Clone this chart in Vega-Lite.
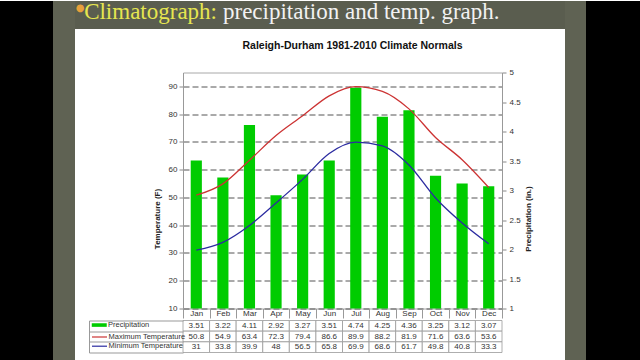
{
  "$schema": "https://vega.github.io/schema/vega-lite/v6.json",
  "background": "white",
  "padding": 0,
  "spacing": 0,
  "config": {
    "view": {"stroke": null},
    "font": "Liberation Sans",
    "axis": {"labelFont": "Liberation Sans", "titleFont": "Liberation Sans", "labelColor": "#333333", "titleColor": "#222222", "domainColor": "#999999", "tickColor": "#888888"}
  },
  "datasets": {
    "climate": [
      {"month": "Jan", "precip": 3.51, "tmax": 50.8, "tmin": 31},
      {"month": "Feb", "precip": 3.22, "tmax": 54.9, "tmin": 33.8},
      {"month": "Mar", "precip": 4.11, "tmax": 63.4, "tmin": 39.9},
      {"month": "Apr", "precip": 2.92, "tmax": 72.3, "tmin": 48},
      {"month": "May", "precip": 3.27, "tmax": 79.4, "tmin": 56.5},
      {"month": "Jun", "precip": 3.51, "tmax": 86.6, "tmin": 65.8},
      {"month": "Jul", "precip": 4.74, "tmax": 89.9, "tmin": 69.9},
      {"month": "Aug", "precip": 4.25, "tmax": 88.2, "tmin": 68.6},
      {"month": "Sep", "precip": 4.36, "tmax": 81.9, "tmin": 61.7},
      {"month": "Oct", "precip": 3.25, "tmax": 71.6, "tmin": 49.8},
      {"month": "Nov", "precip": 3.12, "tmax": 63.6, "tmin": 40.8},
      {"month": "Dec", "precip": 3.07, "tmax": 53.6, "tmin": 33.3}
    ],
    "blank": [{"k": 1}]
  },
  "hconcat": [
    {"width": 53, "height": 360, "data": {"name": "blank"}, "view": {"fill": "#000000", "stroke": null}, "mark": {"type": "point", "opacity": 0}, "encoding": {}},
    {"width": 22, "height": 360, "data": {"name": "blank"}, "view": {"fill": "#5f6253", "stroke": null}, "mark": {"type": "point", "opacity": 0}, "encoding": {}},
    {
      "spacing": 11.5,
      "vconcat": [
        {
          "width": 490, "height": 28,
          "data": {"name": "blank"},
          "view": {"fill": "#5a5d4f", "stroke": null},
          "layer": [
            {"mark": {"type": "text", "text": "●", "color": "#e8a03c", "fontSize": 10, "font": "DejaVu Sans", "align": "center", "baseline": "middle", "dx": -240, "dy": -7}, "encoding": {}},
            {"mark": {"type": "text", "text": "Climatograph:", "color": "#e6e650", "fontSize": 23, "font": "Liberation Serif", "align": "right", "baseline": "alphabetic", "dx": -103, "dy": 3.5}, "encoding": {}},
            {"mark": {"type": "text", "text": "precipitation and temp. graph.", "color": "#f2f2f2", "fontSize": 23, "font": "Liberation Serif", "align": "left", "baseline": "alphabetic", "dx": -97, "dy": 3.5}, "encoding": {}}
          ]
        },
        {
          "spacing": 0,
          "hconcat": [
            {"width": 13, "height": 10, "data": {"name": "blank"}, "mark": {"type": "point", "opacity": 0}, "encoding": {}},
            {
              "spacing": 0,
              "resolve": {"scale": {"color": "independent", "fill": "independent", "stroke": "independent"}, "legend": {"color": "independent"}},
              "vconcat": [
                {
                  "width": 319, "height": 236,
                  "view": {"stroke": "#a8a8a8"},
                  "title": {"text": "Raleigh-Durham 1981-2010 Climate Normals", "fontSize": 10.5, "fontWeight": "bold", "font": "Liberation Sans", "color": "#111111", "offset": 17, "dx": 10},
                  "data": {"name": "climate"},
                  "encoding": {
                    "x": {"field": "month", "type": "nominal", "sort": ["Jan","Feb","Mar","Apr","May","Jun","Jul","Aug","Sep","Oct","Nov","Dec"], "scale": {"paddingInner": 0, "paddingOuter": 0},
                      "axis": {"title": null, "labelAngle": 0, "tickBand": "extent", "tickSize": 9.5, "tickColor": "#999999", "domain": false, "labelPadding": -8.5, "labelFontSize": 8, "labelColor": "#333333"}}
                  },
                  "layer": [
                    {
                      "mark": {"type": "bar", "color": "#00cc00", "width": {"band": 0.42}, "clip": true},
                      "encoding": {
                        "y": {"field": "precip", "type": "quantitative", "scale": {"domain": [1, 5], "nice": false, "zero": false},
                          "axis": {"orient": "right", "values": [1, 1.5, 2, 2.5, 3, 3.5, 4, 4.5, 5], "format": "~g", "title": "Precipitation (in.)", "titleAngle": 270, "titleFontSize": 8, "titleFontWeight": "bold", "titlePadding": 12, "titleY": 146, "labelFontSize": 8, "tickSize": 4, "labelPadding": 3, "grid": false}}
                      }
                    },
                    {
                      "transform": [{"fold": ["tmax", "tmin"], "as": ["series", "temp"]}],
                      "mark": {"type": "line", "interpolate": "monotone", "strokeWidth": 1.3},
                      "encoding": {
                        "y": {"field": "temp", "type": "quantitative", "scale": {"domain": [10, 95], "nice": false, "zero": false},
                          "axis": {"orient": "left", "values": [10, 20, 30, 40, 50, 60, 70, 80, 90], "title": "Temperature (F)", "titleFontSize": 8, "titleFontWeight": "bold", "titlePadding": 7, "titleY": 146, "labelFontSize": 8, "tickSize": 4, "labelPadding": 2, "grid": true, "gridDash": [6, 3], "gridColor": "#555555", "gridWidth": 1}},
                        "color": {"field": "series", "type": "nominal", "scale": {"domain": ["tmax", "tmin"], "range": ["#cc3333", "#2b2ba0"]}, "legend": null}
                      }
                    }
                  ],
                  "resolve": {"scale": {"y": "independent"}}
                },
                {
                  "width": 319, "height": 32,
                  "data": {"name": "climate"},
                  "transform": [{"fold": ["precip", "tmax", "tmin"], "as": ["key", "value"]}],
                  "resolve": {"legend": {"fill": "independent", "stroke": "independent"}},
                  "layer": [
                    {
                      "mark": {"type": "rect", "fill": "white", "stroke": "#999999", "strokeWidth": 0.8},
                      "encoding": {
                        "x": {"field": "month", "type": "nominal", "sort": ["Jan","Feb","Mar","Apr","May","Jun","Jul","Aug","Sep","Oct","Nov","Dec"], "scale": {"paddingInner": 0, "paddingOuter": 0}, "axis": null},
                        "y": {"field": "key", "type": "nominal", "scale": {"domain": ["precip", "tmax", "tmin"], "paddingInner": 0, "paddingOuter": 0},
                          "axis": {"title": null, "labels": false, "orient": "left", "offset": 94, "tickSize": -94, "tickBand": "extent", "tickColor": "#999999", "domainColor": "#999999", "grid": false}}
                      }
                    },
                    {
                      "mark": {"type": "text", "fontSize": 8, "color": "#333333", "font": "Liberation Sans"},
                      "encoding": {
                        "x": {"field": "month", "type": "nominal", "sort": ["Jan","Feb","Mar","Apr","May","Jun","Jul","Aug","Sep","Oct","Nov","Dec"]},
                        "y": {"field": "key", "type": "nominal"},
                        "text": {"field": "value", "type": "nominal"}
                      }
                    },
                    {
                      "transform": [{"filter": "datum.key == 'precip'"}],
                      "mark": {"type": "point", "filled": true, "opacity": 0},
                      "encoding": {
                        "fill": {"field": "key", "type": "nominal", "scale": {"domain": ["precip"], "range": ["#00cc00"]},
                          "legend": {
                            "orient": "none", "legendX": -87.5, "legendY": 0.8, "title": null, "padding": 0,
                            "symbolType": "M-2.5,-0.6H2.5V0.6H-2.5Z", "symbolSize": 36, "symbolStrokeWidth": 0, "symbolOpacity": 1,
                            "labelOffset": 5, "labelFontSize": 7.5, "labelColor": "#333333", "labelFont": "Liberation Sans", "labelLimit": 200,
                            "labelExpr": "'Precipitation'"
                          }
                        }
                      }
                    },
                    {
                      "transform": [{"filter": "datum.key != 'precip'"}],
                      "mark": {"type": "point", "filled": false, "opacity": 0},
                      "encoding": {
                        "stroke": {"field": "key", "type": "nominal", "scale": {"domain": ["tmax", "tmin"], "range": ["#cc3333", "#2b2ba0"]},
                          "legend": {
                            "orient": "none", "legendX": -87.5, "legendY": 12.5, "title": null, "padding": 0, "rowPadding": 1.2,
                            "symbolType": "M-2.5,0H2.5", "symbolSize": 36, "symbolStrokeWidth": 1.2, "symbolOpacity": 1,
                            "labelOffset": 5, "labelFontSize": 7.5, "labelColor": "#333333", "labelFont": "Liberation Sans", "labelLimit": 200,
                            "labelExpr": "datum.value == 'tmax' ? 'Maximum Temperature' : 'Minimum Temperature'"
                          }
                        }
                      }
                    }
                  ]
                }
              ]
            }
          ]
        }
      ]
    },
    {"width": 21, "height": 360, "data": {"name": "blank"}, "view": {"fill": "#5f6253", "stroke": null}, "mark": {"type": "point", "opacity": 0}, "encoding": {}},
    {"width": 54, "height": 360, "data": {"name": "blank"}, "view": {"fill": "#000000", "stroke": null}, "mark": {"type": "point", "opacity": 0}, "encoding": {}}
  ]
}
